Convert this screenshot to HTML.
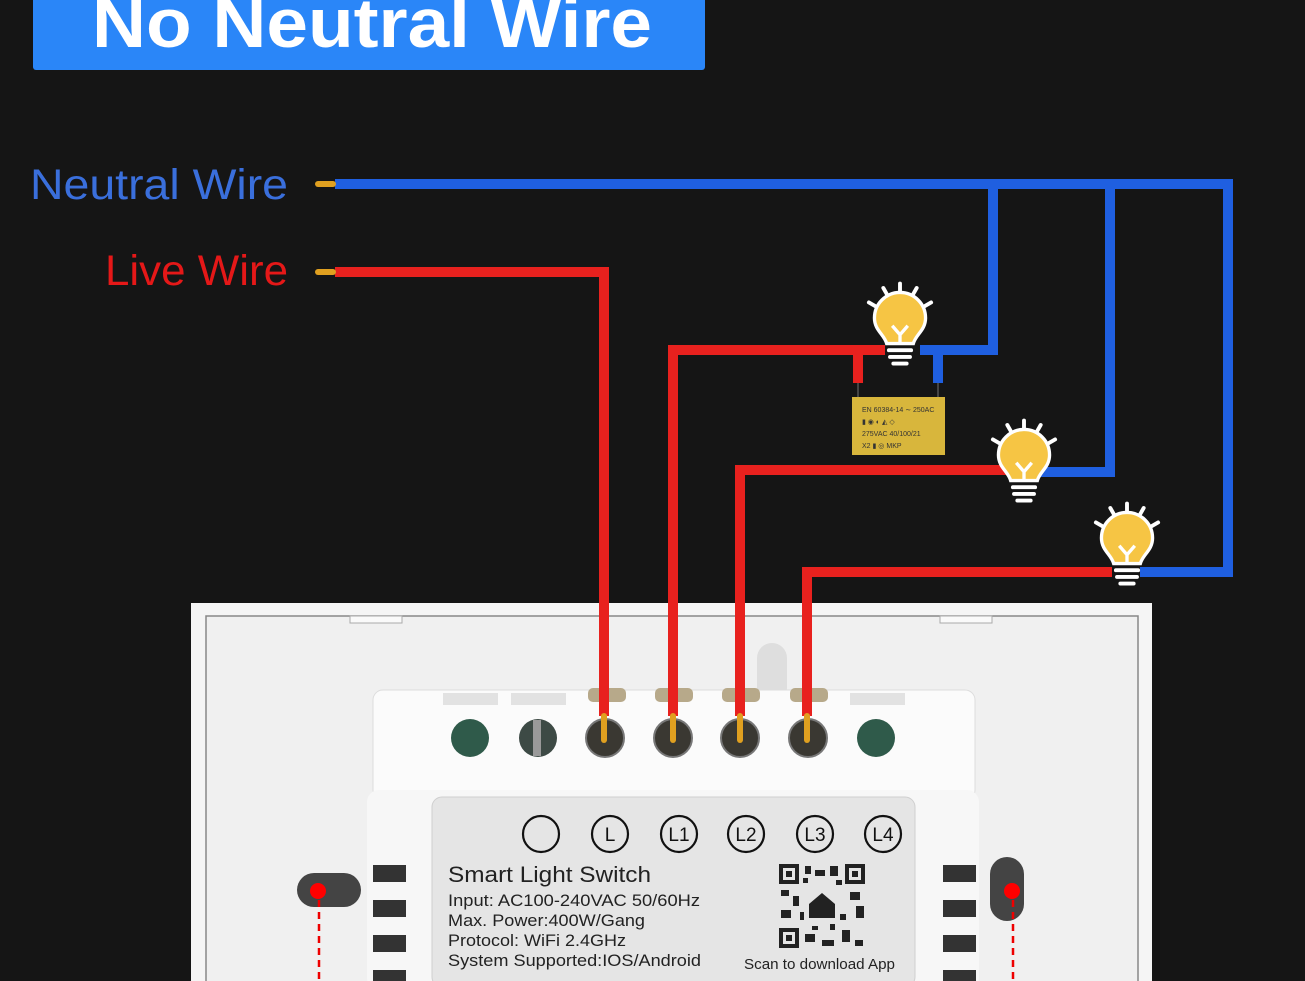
<!DOCTYPE html>
<html><head><meta charset="utf-8"><style>
html,body{margin:0;padding:0;background:#151515;}
svg{display:block}
text{font-family:"Liberation Sans",sans-serif}
</style></head><body>
<svg width="1305" height="981" viewBox="0 0 1305 981" xmlns="http://www.w3.org/2000/svg">
<defs>
<symbol id="bulb" viewBox="-40 -45 80 90">
<g stroke="#fff" stroke-width="3.5" stroke-linecap="round">
<line x1="0" y1="-40" x2="0" y2="-32"/><line x1="-15" y1="-36" x2="-11" y2="-29"/><line x1="15" y1="-36" x2="11" y2="-29"/>
<line x1="-28" y1="-23" x2="-21" y2="-19"/><line x1="28" y1="-23" x2="21" y2="-19"/>
</g>
<path d="M-12 14 C-14 6 -23 2 -23 -9 A23 23 0 0 1 23 -9 C23 2 14 6 12 14 Z" fill="#f6c544" stroke="#fff" stroke-width="3"/>
<path d="M-7 -2 L0 6 L7 -2 M0 6 L0 14" stroke="#fff" stroke-width="3" fill="none"/>
<g stroke="#fff" stroke-width="3.5" stroke-linecap="round"><line x1="-10" y1="20" x2="10" y2="20"/><line x1="-9" y1="26" x2="9" y2="26"/><line x1="-6" y1="32" x2="6" y2="32"/></g>
</symbol>
</defs>
<rect width="1305" height="981" fill="#151515"/>
<!-- title -->
<rect x="33" y="-10" width="672" height="80" rx="3" fill="#2a86f8"/>
<text x="92" y="47" font-size="70" font-weight="bold" fill="#fff" textLength="560" lengthAdjust="spacingAndGlyphs">No Neutral Wire</text>
<text x="30" y="199" font-size="43" fill="#3a6fdc" textLength="258" lengthAdjust="spacingAndGlyphs">Neutral Wire</text>
<text x="105" y="285" font-size="43" fill="#e51818" textLength="183" lengthAdjust="spacingAndGlyphs">Live Wire</text>

<!-- panel -->
<rect x="191" y="603" width="961" height="390" fill="#f5f5f5"/>
<rect x="206" y="616" width="932" height="380" fill="#f0f0f0" stroke="#888" stroke-width="1.5"/>
<rect x="350" y="616" width="52" height="7" fill="#fafafa" stroke="#aaa"/>
<rect x="940" y="616" width="52" height="7" fill="#fafafa" stroke="#aaa"/>
<rect x="757" y="643" width="30" height="60" rx="15" fill="#dedede"/>
<rect x="373" y="690" width="602" height="110" rx="10" fill="#fbfbfb" stroke="#ddd"/>
<g fill="#e2e2e2">
<rect x="443" y="693" width="55" height="12"/><rect x="511" y="693" width="55" height="12"/><rect x="850" y="693" width="55" height="12"/>
</g>
<g fill="#b7a98a"><rect x="588" y="688" width="38" height="14" rx="5"/><rect x="655" y="688" width="38" height="14" rx="5"/><rect x="722" y="688" width="38" height="14" rx="5"/><rect x="790" y="688" width="38" height="14" rx="5"/></g>
<circle cx="470" cy="738" r="19" fill="#2f5a4a"/>
<circle cx="538" cy="738" r="19" fill="#3d4a45"/><rect x="533" y="720" width="8" height="36" fill="#9a9a9a"/>
<g fill="#3a3832" stroke="#777" stroke-width="2">
<circle cx="605" cy="738" r="19"/><circle cx="673" cy="738" r="19"/><circle cx="740" cy="738" r="19"/><circle cx="808" cy="738" r="19"/></g>
<circle cx="876" cy="738" r="19" fill="#2f5a4a"/>
<!-- lower body -->
<rect x="367" y="790" width="612" height="200" rx="12" fill="#f7f7f7"/>
<rect x="432" y="797" width="483" height="190" rx="10" fill="#e5e5e5" stroke="#cfcfcf"/>
<g fill="#333"><rect x="373" y="865" width="33" height="17"/><rect x="373" y="900" width="33" height="17"/><rect x="373" y="935" width="33" height="17"/><rect x="373" y="970" width="33" height="17"/>
<rect x="943" y="865" width="33" height="17"/><rect x="943" y="900" width="33" height="17"/><rect x="943" y="935" width="33" height="17"/><rect x="943" y="970" width="33" height="17"/></g>
<g fill="none" stroke="#111" stroke-width="2.2">
<circle cx="541" cy="834" r="18"/><circle cx="610" cy="834" r="18"/><circle cx="679" cy="834" r="18"/><circle cx="746" cy="834" r="18"/><circle cx="815" cy="834" r="18"/><circle cx="883" cy="834" r="18"/></g>
<g font-size="19" fill="#111" text-anchor="middle"><text x="610" y="841">L</text><text x="679" y="841">L1</text><text x="746" y="841">L2</text><text x="815" y="841">L3</text><text x="883" y="841">L4</text></g>
<text x="448" y="882" font-size="22" fill="#222" textLength="203" lengthAdjust="spacingAndGlyphs">Smart Light Switch</text>
<g font-size="17" fill="#222"><text x="448" y="906" textLength="252" lengthAdjust="spacingAndGlyphs">Input: AC100-240VAC 50/60Hz</text><text x="448" y="926" textLength="197" lengthAdjust="spacingAndGlyphs">Max. Power:400W/Gang</text><text x="448" y="946" textLength="178" lengthAdjust="spacingAndGlyphs">Protocol: WiFi 2.4GHz</text><text x="448" y="966" textLength="253" lengthAdjust="spacingAndGlyphs">System Supported:IOS/Android</text></g>
<text x="744" y="969" font-size="15" fill="#222" textLength="151" lengthAdjust="spacingAndGlyphs">Scan to download App</text>
<!-- QR -->
<g fill="#222">
<rect x="779" y="864" width="86" height="84" fill="#e5e5e5"/>
<rect x="779" y="864" width="20" height="20"/><rect x="845" y="864" width="20" height="20"/><rect x="779" y="928" width="20" height="20"/>
<rect x="783" y="868" width="12" height="12" fill="#e5e5e5"/><rect x="849" y="868" width="12" height="12" fill="#e5e5e5"/><rect x="783" y="932" width="12" height="12" fill="#e5e5e5"/>
<rect x="786" y="871" width="6" height="6"/><rect x="852" y="871" width="6" height="6"/><rect x="786" y="935" width="6" height="6"/>
<rect x="805" y="866" width="6" height="8"/><rect x="815" y="870" width="10" height="6"/><rect x="830" y="866" width="8" height="10"/>
<rect x="781" y="890" width="8" height="6"/><rect x="793" y="896" width="6" height="10"/><rect x="781" y="910" width="10" height="8"/>
<rect x="850" y="892" width="10" height="8"/><rect x="856" y="906" width="8" height="12"/><rect x="805" y="934" width="10" height="8"/>
<rect x="822" y="940" width="12" height="6"/><rect x="842" y="930" width="8" height="12"/><rect x="855" y="940" width="8" height="6"/>
<rect x="803" y="878" width="5" height="5"/><rect x="836" y="880" width="6" height="5"/><rect x="800" y="912" width="4" height="8"/><rect x="840" y="914" width="6" height="6"/><rect x="812" y="926" width="6" height="4"/><rect x="830" y="924" width="5" height="6"/>
<path d="M804 902 L822 887 L840 902 L840 922 L804 922 Z" fill="#e5e5e5"/><path d="M809 904 L822 893 L835 904 L835 918 L809 918 Z"/>
</g>
<!-- side buttons -->
<rect x="297" y="873" width="64" height="34" rx="17" fill="#444"/>
<circle cx="318" cy="891" r="8" fill="#f00"/>
<line x1="319" y1="900" x2="319" y2="981" stroke="#e00" stroke-width="2.5" stroke-dasharray="7,5"/>
<rect x="990" y="857" width="34" height="64" rx="17" fill="#444"/>
<circle cx="1012" cy="891" r="8" fill="#f00"/>
<line x1="1013" y1="900" x2="1013" y2="981" stroke="#e00" stroke-width="2.5" stroke-dasharray="7,5"/>

<!-- wires -->
<g fill="none" stroke-width="10" stroke-linejoin="miter">
<g stroke="#1f5fe0">
<polyline points="335,184 1228,184 1228,572 1140,572"/>
<polyline points="993,184 993,350 920,350"/>
<polyline points="1110,184 1110,472 1040,472"/>
<line x1="938" y1="350" x2="938" y2="383"/>
</g>
<g stroke="#e8211e">
<polyline points="335,272 604,272 604,716"/>
<polyline points="673,716 673,350 885,350"/>
<polyline points="740,716 740,470 1008,470"/>
<polyline points="807,716 807,572 1112,572"/>
<line x1="858" y1="350" x2="858" y2="383"/>
</g>
</g>
<g stroke="#e0a020" stroke-width="6" stroke-linecap="round">
<line x1="318" y1="184" x2="333" y2="184"/><line x1="318" y1="272" x2="333" y2="272"/>
<line x1="604" y1="716" x2="604" y2="740"/><line x1="673" y1="716" x2="673" y2="740"/><line x1="740" y1="716" x2="740" y2="740"/><line x1="807" y1="716" x2="807" y2="740"/>
</g>
<!-- capacitor -->
<line x1="858" y1="383" x2="858" y2="398" stroke="#555" stroke-width="1.5"/>
<line x1="938" y1="383" x2="938" y2="398" stroke="#555" stroke-width="1.5"/>
<rect x="852" y="397" width="93" height="58" fill="#d8b63c"/>
<g font-size="7" fill="#333"><text x="862" y="412">EN 60384-14 ∼ 250AC</text><text x="862" y="424">▮ ◉ ◐ ◭ ◇</text><text x="862" y="436">275VAC  40/100/21</text><text x="862" y="448">X2  ▮  ◎ MKP</text></g>
<!-- bulbs -->
<use href="#bulb" x="855" y="278" width="90" height="100"/>
<use href="#bulb" x="979" y="415" width="90" height="100"/>
<use href="#bulb" x="1082" y="498" width="90" height="100"/>
</svg>
</body></html>
